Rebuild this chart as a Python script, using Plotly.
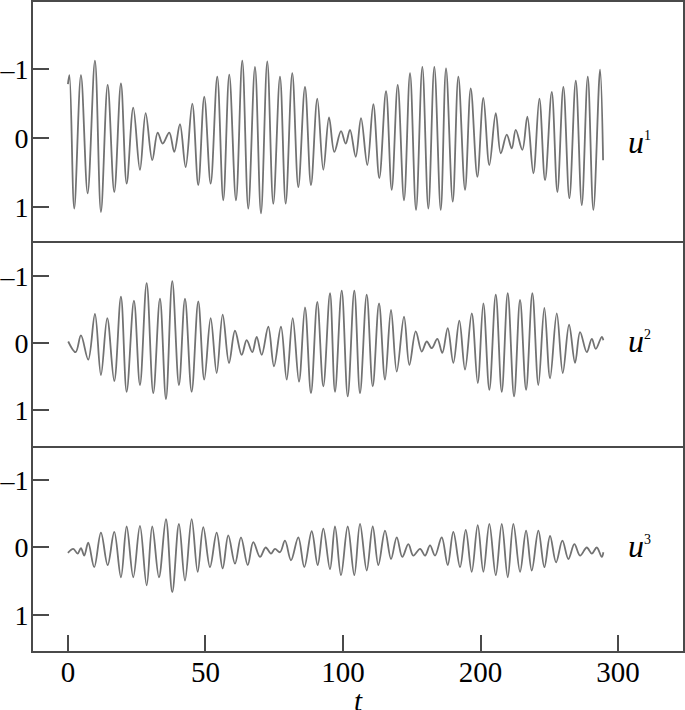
import plotly.graph_objects as go

# Extremes of each oscillation (time, value)
t1 = [0, 0.55, 2.29, 4.73, 7.16, 9.82, 12.0, 14.44, 16.84, 19.27, 21.35, 23.75, 26.18, 28.25, 30.65,
      32.62, 34.44, 36.84, 38.65, 40.73, 42.8, 45.2, 47.38, 49.56, 51.89, 54.29, 56.47, 58.65, 61.09,
      63.38, 65.56, 68.0, 70.18, 72.47, 74.65, 77.09, 79.16, 81.56, 83.75, 86.18, 88.36, 90.65, 92.84,
      94.91, 96.84, 99.27, 100.98, 102.55, 104.62, 106.55, 108.84, 111.02, 113.2, 115.64, 117.71,
      119.89, 122.18, 124.36, 126.55, 128.84, 131.02, 133.2, 135.53, 137.45, 139.89, 141.93, 144.36,
      146.44, 148.84, 151.02, 153.2, 155.53, 157.35, 159.53, 161.35, 162.8, 165.2, 167.02, 169.2,
      171.38, 173.45, 175.89, 177.93, 180.11, 182.29, 184.62, 186.8, 188.98, 191.02, 193.45, 194.55]
u1 = [-0.78, -0.91, 1.02, -0.91, 0.80, -1.12, 1.07, -0.77, 0.78, -0.79, 0.66, -0.44, 0.46, -0.36, 0.32,
      -0.08, 0.08, -0.08, 0.20, -0.20, 0.42, -0.50, 0.68, -0.60, 0.66, -0.89, 0.90, -0.92, 0.90,
      -1.12, 1.02, -1.03, 1.09, -1.11, 0.95, -0.89, 0.95, -0.94, 0.71, -0.74, 0.68, -0.57, 0.46,
      -0.30, 0.20, -0.10, 0.08, -0.12, 0.27, -0.29, 0.39, -0.49, 0.58, -0.68, 0.75,
      -0.77, 0.90, -0.94, 1.04, -1.03, 1.02, -1.03, 1.04, -1.01, 0.92, -0.89, 0.75,
      -0.72, 0.56, -0.58, 0.39, -0.36, 0.22, -0.05, 0.15, -0.12, 0.17, -0.31, 0.51,
      -0.57, 0.61, -0.67, 0.78, -0.74, 0.87, -0.83, 0.97, -0.89, 1.04, -0.99, 0.32]

t2 = [0.1, 2.8, 4.73, 7.38, 9.82, 12.0, 14.29, 16.84, 19.27, 21.35, 24.0, 26.18, 28.62, 31.02, 33.45,
      35.64, 37.93, 40.36, 42.55, 44.98, 47.38, 49.56, 51.89, 54.07, 56.25, 58.55, 60.73, 63.16, 64.98,
      67.02, 68.62, 70.44, 72.84, 74.91, 77.45, 79.53, 81.71, 84.0, 86.18, 88.36, 90.65, 92.84, 95.27,
      97.09, 99.53, 101.71, 104.11, 106.18, 108.62, 110.8, 113.09, 115.27, 117.45, 119.53, 122.18,
      124.11, 126.44, 128.62, 130.44, 132.25, 134.29, 136.11, 138.07, 140.11, 142.29, 144.36, 146.8,
      148.98, 151.02, 153.2, 155.53, 157.71, 159.89, 162.18, 164.36, 166.55, 168.84, 171.02, 173.2,
      175.27, 177.71, 179.89, 182.18, 184.36, 186.18, 188.62, 190.44, 191.89, 194.07, 194.65]
u2 = [-0.02, 0.14, -0.11, 0.25, -0.43, 0.48, -0.37, 0.57, -0.69, 0.73, -0.63, 0.63, -0.89, 0.75, -0.66,
      0.84, -0.92, 0.63, -0.66, 0.73, -0.62, 0.55, -0.37, 0.45, -0.42, 0.30, -0.18, 0.18, -0.04,
      0.14, -0.09, 0.18, -0.24, 0.35, -0.24, 0.55, -0.37, 0.58, -0.53, 0.75, -0.61, 0.65, -0.74,
      0.73, -0.78, 0.80, -0.78, 0.75, -0.72, 0.65, -0.59, 0.55, -0.49, 0.43, -0.39,
      0.33, -0.17, 0.13, -0.02, 0.08, -0.06, 0.15, -0.22, 0.30, -0.33, 0.40, -0.44,
      0.60, -0.59, 0.70, -0.72, 0.73, -0.74, 0.80, -0.64, 0.70, -0.74, 0.63, -0.52,
      0.53, -0.44, 0.45, -0.27, 0.30, -0.16, 0.14, -0.06, 0.09, -0.09, -0.04]

t3 = [0, 1.93, 3.53, 4.73, 5.93, 7.38, 9.56, 12.0, 14.44, 16.84, 19.27, 21.35, 23.75, 26.18, 28.62,
      30.65, 33.09, 35.64, 37.93, 40.36, 42.55, 44.98, 47.16, 49.2, 51.64, 54.07, 56.25, 58.29, 60.73,
      62.91, 65.35, 67.38, 69.82, 71.89, 73.82, 75.27, 77.09, 78.91, 81.09, 83.75, 85.93, 88.62, 90.8,
      92.84, 95.27, 97.09, 99.27, 101.71, 104.11, 106.18, 108.62, 110.8, 112.84, 115.27, 117.45,
      119.53, 121.56, 123.75, 125.56, 128.0, 129.82, 131.64, 133.45, 135.89, 138.07, 140.11, 142.55,
      144.62, 146.8, 148.98, 151.02, 153.2, 155.53, 157.71, 159.89, 161.93, 164.36, 166.55, 168.62,
      171.02, 173.2, 175.27, 177.45, 179.75, 181.93, 184.11, 186.18, 188.62, 190.44, 192.25, 194.07, 194.65]
u3 = [0.08, 0.02, 0.09, 0.01, 0.12, -0.07, 0.29, -0.22, 0.26, -0.23, 0.44, -0.31, 0.44, -0.32, 0.56,
      -0.31, 0.44, -0.42, 0.66, -0.35, 0.49, -0.42, 0.36, -0.30, 0.29, -0.22, 0.31, -0.18, 0.24,
      -0.15, 0.26, -0.08, 0.14, 0.00, 0.09, 0.02, 0.07, -0.10, 0.19, -0.15, 0.29, -0.24, 0.26,
      -0.28, 0.32, -0.31, 0.41, -0.31, 0.41, -0.35, 0.34, -0.31, 0.26, -0.25, 0.17,
      -0.15, 0.14, -0.05, 0.12, 0.02, 0.12, -0.03, 0.12, -0.15, 0.26, -0.23, 0.29,
      -0.26, 0.36, -0.33, 0.36, -0.35, 0.41, -0.35, 0.44, -0.35, 0.36, -0.25, 0.34,
      -0.25, 0.29, -0.17, 0.22, -0.10, 0.17, -0.05, 0.12, 0.00, 0.09, 0.00, 0.14, 0.07]

x_tick_vals = [0, 50, 100, 150, 200]
x_tick_text = ["0", "50", "100", "200", "300"]
y_tick_vals = [-1, 0, 1]
y_tick_text = ["\u20131", "0", "1"]
series_labels = ["<i>u</i><sup>1</sup>", "<i>u</i><sup>2</sup>", "<i>u</i><sup>3</sup>"]

W, H = 685, 710
ML, MR, MT, MB = 33, 2, 2, 59
ph = H - MT - MB

def frac(ypx):
    return (H - MB - ypx) / ph

domains = [[frac(241), 1.0], [frac(446), frac(241)], [0.0, frac(446)]]
yranges = [[1.49, -1.97], [1.54, -1.52], [1.53, -1.50]]
label_y = [142, 341, 546]

fig = go.Figure()
line_style = dict(color="#727272", width=1.8, shape="spline", smoothing=1.0)
for i, (tt, uu) in enumerate([(t1, u1), (t2, u2), (t3, u3)]):
    sfx = "" if i == 0 else str(i + 1)
    fig.add_trace(go.Scatter(x=tt, y=uu, mode="lines", line=line_style,
                             xaxis="x" + sfx, yaxis="y" + sfx, showlegend=False,
                             hoverinfo="skip"))

tickfont = dict(family="Liberation Serif", size=29, color="black")
ytickfont = dict(family="Liberation Serif", size=28, color="black")
frame = dict(showline=True, linecolor="#4a4a4a", linewidth=2,
             showgrid=False, zeroline=False, ticklen=16, automargin=False,
             tickwidth=2, tickcolor="#4a4a4a")
layout = dict(width=W, height=H, margin=dict(l=ML, r=MR, t=MT, b=MB, autoexpand=False),
              paper_bgcolor="white", plot_bgcolor="white", showlegend=False)
for i in range(3):
    sfx = "" if i == 0 else str(i + 1)
    layout["xaxis" + sfx] = dict(frame, range=[-12.7, 223.6], domain=[0, 1],
                                 anchor="y" + sfx, tickvals=x_tick_vals,
                                 ticktext=x_tick_text, showticklabels=(i == 2),
                                 tickfont=tickfont, mirror=(i == 0),
                                 ticklabelstandoff=-6,
                                 ticks="inside" if i == 2 else "",
                                 **({} if i == 0 else {"matches": "x"}))
    layout["yaxis" + sfx] = dict(frame, range=yranges[i], domain=domains[i],
                                 anchor="x" + sfx, tickvals=y_tick_vals,
                                 ticktext=y_tick_text, ticklabelstandoff=-3,
                                 ticks="inside", mirror=True,
                                 tickfont=ytickfont)
fig.update_layout(**layout)

pw = W - ML - MR
for i, lab in enumerate(series_labels):
    fig.add_annotation(text=lab.replace("<sup>", "<sup><span style='font-size:14px'>").replace("</sup>", "</span></sup>"),
                       xref="paper", yref="paper", x=(626 - ML) / pw, y=frac(label_y[i]),
                       xanchor="left", yanchor="middle", showarrow=False,
                       font=dict(family="Liberation Serif", size=32, color="black"))
fig.add_annotation(text="<i>t</i>", xref="paper", yref="paper", x=(358 - ML) / pw,
                   y=frac(684), xanchor="center", yanchor="top", showarrow=False,
                   borderpad=0, font=dict(family="Liberation Serif", size=29, color="black"))

fig.write_html("out.html", config={"responsive": False, "displayModeBar": False},
               post_script="document.body.style.margin='0';document.body.style.overflow='hidden';")
